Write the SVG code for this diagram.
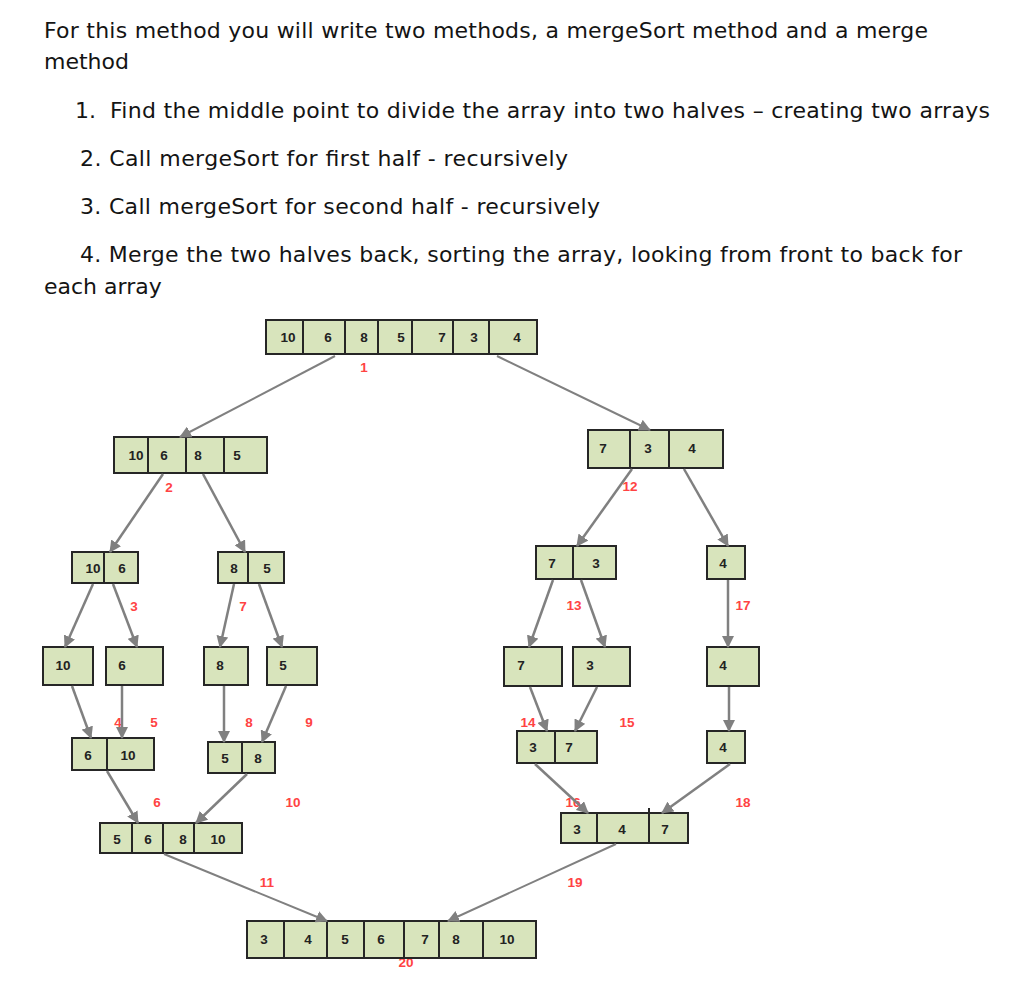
<svg xmlns="http://www.w3.org/2000/svg" width="1024" height="1008" viewBox="0 0 1024 1008">
<style>
.t{font-family:"DejaVu Sans","Verdana",sans-serif;font-size:22px;fill:#141414}
.c{fill:#d8e4bc;stroke:#262626;stroke-width:2}
.d{stroke:#262626;stroke-width:2}
.n{font-family:"Liberation Sans",Arial,sans-serif;font-size:13.5px;font-weight:bold;fill:#222222;text-anchor:middle}
.r{font-family:"Liberation Sans",Arial,sans-serif;font-size:13.5px;font-weight:bold;fill:#ff4343;text-anchor:middle}
.e{stroke:#808080;stroke-width:2.5;fill:none;marker-end:url(#ah)}
.e1{stroke:#808080;stroke-width:2;fill:none;marker-end:url(#ah)}
</style>
<defs>
<marker id="ah" markerUnits="userSpaceOnUse" markerWidth="12" markerHeight="12" refX="11" refY="6" orient="auto">
<path d="M0,0 L12,6 L0,12 z" fill="#808080"/>
</marker>
</defs>
<rect width="1024" height="1008" fill="#ffffff"/>
<g id="header">
<text class="t" x="44" y="38" textLength="884">For this method you will write two methods, a mergeSort method and a merge</text>
<text class="t" x="44" y="69">method</text>
<text class="t" x="75" y="118">1.</text>
<text class="t" x="110" y="118" textLength="880">Find the middle point to divide the array into two halves – creating two arrays</text>
<text class="t" x="80" y="166" textLength="488">2. Call mergeSort for first half - recursively</text>
<text class="t" x="80" y="214" textLength="520">3. Call mergeSort for second half - recursively</text>
<text class="t" x="80" y="262" textLength="882">4. Merge the two halves back, sorting the array, looking from front to back for</text>
<text class="t" x="44" y="294">each array</text>
</g>
<g id="labels">
<text class="r" x="364" y="372">1</text>
<text class="r" x="169" y="492">2</text>
<text class="r" x="630" y="491">12</text>
<text class="r" x="134" y="611">3</text>
<text class="r" x="243" y="611">7</text>
<text class="r" x="574" y="610">13</text>
<text class="r" x="743" y="610">17</text>
<text class="r" x="118" y="727">4</text>
<text class="r" x="154" y="727">5</text>
<text class="r" x="249" y="727">8</text>
<text class="r" x="309" y="727">9</text>
<text class="r" x="528" y="727">14</text>
<text class="r" x="627" y="727">15</text>
<text class="r" x="157" y="807">6</text>
<text class="r" x="293" y="807">10</text>
<text class="r" x="573" y="807">16</text>
<text class="r" x="743" y="807">18</text>
<text class="r" x="267" y="887">11</text>
<text class="r" x="575" y="887">19</text>
<text class="r" x="406" y="967">20</text>
</g>
<g id="n1">
<rect class="c" x="266" y="320" width="271" height="34"/>
<path class="d" d="M303,320V354M345,320V354M378,320V354M412,320V354M453,320V354M489,320V354"/>
<text class="n" x="288" y="342">10</text><text class="n" x="328" y="342">6</text><text class="n" x="364" y="342">8</text><text class="n" x="401" y="342">5</text><text class="n" x="442" y="342">7</text><text class="n" x="474" y="342">3</text><text class="n" x="517" y="342">4</text>
</g>
<g id="n2">
<rect class="c" x="114" y="437" width="153" height="36"/>
<path class="d" d="M148,437V473M186,437V473M224,437V473"/>
<text class="n" x="136" y="460">10</text><text class="n" x="164" y="460">6</text><text class="n" x="198" y="460">8</text><text class="n" x="237" y="460">5</text>
</g>
<g id="n12">
<rect class="c" x="588" y="430" width="135" height="38"/>
<path class="d" d="M630,430V468M669,430V468"/>
<text class="n" x="603" y="453">7</text><text class="n" x="648" y="453">3</text><text class="n" x="692" y="453">4</text>
</g>
<g id="n3">
<rect class="c" x="72" y="552" width="66" height="31"/>
<path class="d" d="M104,552V583"/>
<text class="n" x="93" y="573">10</text><text class="n" x="122" y="573">6</text>
</g>
<g id="n7">
<rect class="c" x="218" y="552" width="66" height="31"/>
<path class="d" d="M248,552V583"/>
<text class="n" x="234" y="573">8</text><text class="n" x="267" y="573">5</text>
</g>
<g id="n4a"><rect class="c" x="43" y="647" width="50" height="38"/><text class="n" x="63" y="670">10</text></g>
<g id="n4b"><rect class="c" x="106" y="647" width="57" height="38"/><text class="n" x="122" y="670">6</text></g>
<g id="n8a"><rect class="c" x="204" y="647" width="44" height="38"/><text class="n" x="220" y="670">8</text></g>
<g id="n8b"><rect class="c" x="267" y="647" width="50" height="38"/><text class="n" x="283" y="670">5</text></g>
<g id="n5">
<rect class="c" x="72" y="738" width="82" height="32"/>
<path class="d" d="M107,738V770"/>
<text class="n" x="88" y="760">6</text><text class="n" x="128" y="760">10</text>
</g>
<g id="n9">
<rect class="c" x="208" y="742" width="67" height="31"/>
<path class="d" d="M242,742V773"/>
<text class="n" x="225" y="763">5</text><text class="n" x="258" y="763">8</text>
</g>
<g id="n10">
<rect class="c" x="100" y="823" width="142" height="30"/>
<path class="d" d="M132,823V853M163,823V853M194,823V853"/>
<text class="n" x="117" y="844">5</text><text class="n" x="148" y="844">6</text><text class="n" x="183" y="844">8</text><text class="n" x="218" y="844">10</text>
</g>
<g id="n13">
<rect class="c" x="536" y="546" width="80" height="33"/>
<path class="d" d="M573,546V579"/>
<text class="n" x="552" y="568">7</text><text class="n" x="596" y="568">3</text>
</g>
<g id="n17"><rect class="c" x="707" y="546" width="38" height="33"/><text class="n" x="723" y="568">4</text></g>
<g id="n14a"><rect class="c" x="504" y="647" width="58" height="39"/><text class="n" x="521" y="670">7</text></g>
<g id="n14b"><rect class="c" x="573" y="647" width="57" height="39"/><text class="n" x="590" y="670">3</text></g>
<g id="n17b"><rect class="c" x="707" y="647" width="52" height="39"/><text class="n" x="723" y="670">4</text></g>
<g id="n15">
<rect class="c" x="517" y="731" width="80" height="32"/>
<path class="d" d="M555,731V763"/>
<text class="n" x="533" y="752">3</text><text class="n" x="569" y="752">7</text>
</g>
<g id="n18"><rect class="c" x="707" y="731" width="38" height="32"/><text class="n" x="723" y="752">4</text></g>
<g id="n16">
<rect class="c" x="561" y="813" width="127" height="30"/>
<path class="d" d="M597,813V843M649,808V843"/>
<text class="n" x="577" y="834">3</text><text class="n" x="622" y="834">4</text><text class="n" x="665" y="834">7</text>
</g>
<g id="n20">
<rect class="c" x="247" y="921" width="289" height="37"/>
<path class="d" d="M284,921V958M327,921V958M364,921V958M404,921V958M439,921V958M483,921V958"/>
<text class="n" x="264" y="944">3</text><text class="n" x="308" y="944">4</text><text class="n" x="345" y="944">5</text><text class="n" x="381" y="944">6</text><text class="n" x="425" y="944">7</text><text class="n" x="456" y="944">8</text><text class="n" x="507" y="944">10</text>
</g>
<g id="connectors">
<line class="e1" x1="335" y1="356" x2="180" y2="437"/>
<line class="e1" x1="497" y1="356" x2="650" y2="430"/>
<line class="e" x1="163" y1="474" x2="110" y2="552"/>
<line class="e" x1="203" y1="474" x2="245" y2="552"/>
<line class="e" x1="93" y1="584" x2="65" y2="647"/>
<line class="e" x1="113" y1="584" x2="137" y2="647"/>
<line class="e" x1="234" y1="584" x2="220" y2="647"/>
<line class="e" x1="259" y1="584" x2="282" y2="647"/>
<line class="e" x1="72" y1="686" x2="91" y2="738"/>
<line class="e" x1="122" y1="686" x2="122" y2="738"/>
<line class="e" x1="224" y1="686" x2="224" y2="742"/>
<line class="e" x1="286" y1="686" x2="262" y2="742"/>
<line class="e" x1="107" y1="771" x2="138" y2="823"/>
<line class="e" x1="247" y1="774" x2="196" y2="823"/>
<line class="e1" x1="164" y1="854" x2="327" y2="921"/>
<line class="e" x1="632" y1="469" x2="577" y2="546"/>
<line class="e" x1="684" y1="469" x2="728" y2="546"/>
<line class="e" x1="553" y1="580" x2="529" y2="647"/>
<line class="e" x1="581" y1="580" x2="605" y2="647"/>
<line class="e" x1="728" y1="580" x2="728" y2="647"/>
<line class="e" x1="530" y1="687" x2="547" y2="731"/>
<line class="e" x1="597" y1="687" x2="575" y2="731"/>
<line class="e" x1="729" y1="687" x2="729" y2="731"/>
<line class="e" x1="535" y1="764" x2="588" y2="813"/>
<line class="e" x1="730" y1="764" x2="662" y2="813"/>
<line class="e1" x1="616" y1="844" x2="448" y2="921"/>
</g>
</svg>
